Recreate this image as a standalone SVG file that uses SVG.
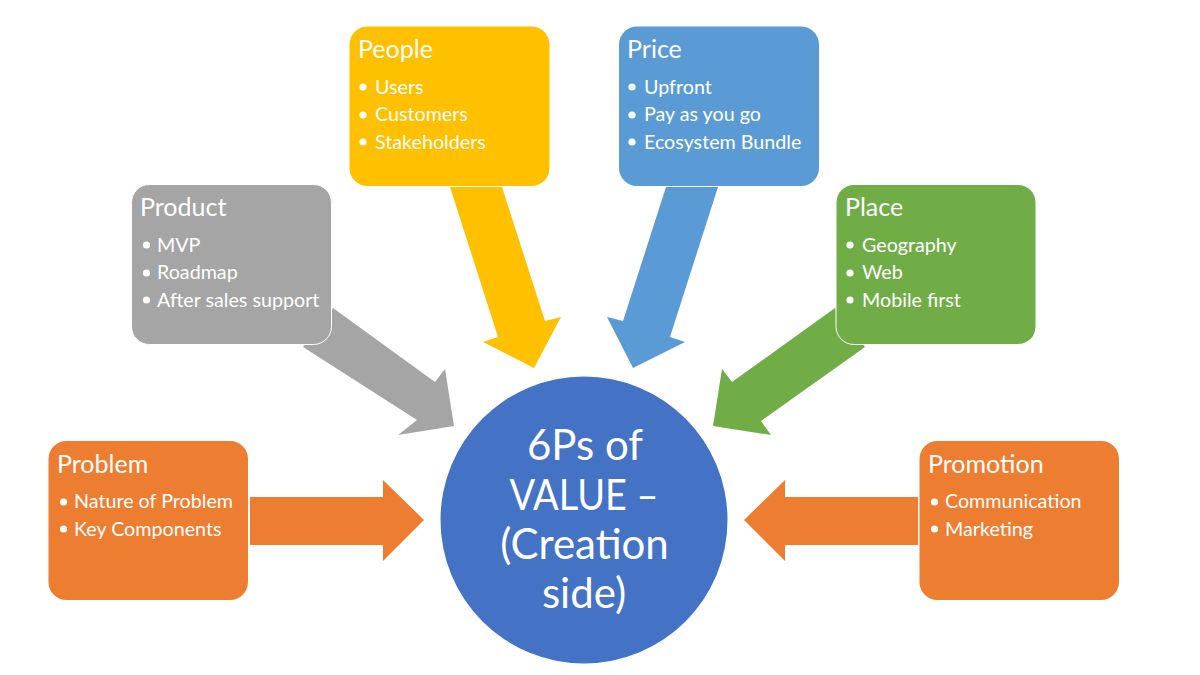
<svg xmlns="http://www.w3.org/2000/svg" width="1200" height="675" viewBox="0 0 1200 675">
<style>
text{font-family:Lato,"Open Sans",sans-serif;fill:#fff}
.t{font-size:25px}
.b{font-size:19.7px}
.c{font-size:42px;text-anchor:middle}
.bl{fill:#fff}
</style>
<rect width="1200" height="675" fill="#fff"/>
<g id="connectors">
<polygon fill="#a5a5a5" points="333,308 435,382 445,369 454,426 398,435 417,420 303,347"/>
<polygon fill="#ffc000" points="450,187 502,187 545,321 561,317 534,368 483,342 498,337"/>
<polygon fill="#5b9bd5" points="666,187 718,187 670,337 685,342 633,368 607,317 623,321"/>
<polygon fill="#70ad47" points="835,308 732,382 722,369 713,426 771,435 761,421 865,347"/>
<polygon fill="#ed7d31" points="250,497 383,497 383,480 424,520 383,561 383,545 250,545"/>
<polygon fill="#ed7d31" points="918,497 785,497 785,480 744,520 785,561 785,545 918,545"/>
</g>
<g id="center"><circle cx="584" cy="520" r="143.500" fill="#4472c4"/>
<text class="c" x="585" y="460">6Ps of</text><text class="c" x="584" y="510" textLength="149" lengthAdjust="spacingAndGlyphs">VALUE –</text><text class="c" x="584.500" y="559">(Creation</text><text class="c" x="584" y="608">side)</text></g>
<g id="problem"><rect x="48.500" y="441" width="199.500" height="159" rx="18" fill="#ed7d31"/>
<text class="t" x="57" y="473">Problem</text>
<circle class="bl" cx="63.500" cy="502" r="3.600"/><text class="b" x="74" y="508">Nature of Problem</text>
<circle class="bl" cx="63.500" cy="529" r="3.600"/><text class="b" x="74" y="536">Key Components</text></g>
<g id="product"><rect x="131.500" y="184.500" width="200" height="160" rx="18" fill="#a5a5a5" stroke="#fff" stroke-width="1"/>
<text class="t" x="140" y="216">Product</text>
<circle class="bl" cx="146.500" cy="245" r="3.600"/><text class="b" x="157" y="252">MVP</text>
<circle class="bl" cx="146.500" cy="273" r="3.600"/><text class="b" x="157" y="279">Roadmap</text>
<circle class="bl" cx="146.500" cy="300" r="3.600"/><text class="b" x="157" y="307">After sales support</text></g>
<g id="people"><rect x="349.500" y="26.500" width="200" height="159.500" rx="18" fill="#ffc000"/>
<text class="t" x="358" y="58">People</text>
<circle class="bl" cx="363" cy="87" r="3.600"/><text class="b" x="375" y="94">Users</text>
<circle class="bl" cx="363" cy="115" r="3.600"/><text class="b" x="375" y="121">Customers</text>
<circle class="bl" cx="363" cy="142" r="3.600"/><text class="b" x="375" y="149">Stakeholders</text></g>
<g id="price"><rect x="619" y="26.500" width="200" height="159.500" rx="18" fill="#5b9bd5"/>
<text class="t" x="627" y="58">Price</text>
<circle class="bl" cx="632" cy="87" r="3.600"/><text class="b" x="644" y="94">Upfront</text>
<circle class="bl" cx="632" cy="115" r="3.600"/><text class="b" x="644" y="121">Pay as you go</text>
<circle class="bl" cx="632" cy="142" r="3.600"/><text class="b" x="644" y="149">Ecosystem Bundle</text></g>
<g id="place"><rect x="836" y="184.500" width="200" height="160" rx="18" fill="#70ad47" stroke="#fff" stroke-width="1"/>
<text class="t" x="845" y="216">Place</text>
<circle class="bl" cx="850" cy="245" r="3.600"/><text class="b" x="862" y="252">Geography</text>
<circle class="bl" cx="850" cy="273" r="3.600"/><text class="b" x="862" y="279">Web</text>
<circle class="bl" cx="850" cy="300" r="3.600"/><text class="b" x="862" y="307">Mobile first</text></g>
<g id="promotion"><rect x="919.500" y="441" width="199.500" height="159" rx="18" fill="#ed7d31"/>
<text class="t" x="928" y="473">Promotion</text>
<circle class="bl" cx="934.500" cy="502" r="3.600"/><text class="b" x="945" y="508">Communication</text>
<circle class="bl" cx="934.500" cy="529" r="3.600"/><text class="b" x="945" y="536">Marketing</text></g>
</svg>
